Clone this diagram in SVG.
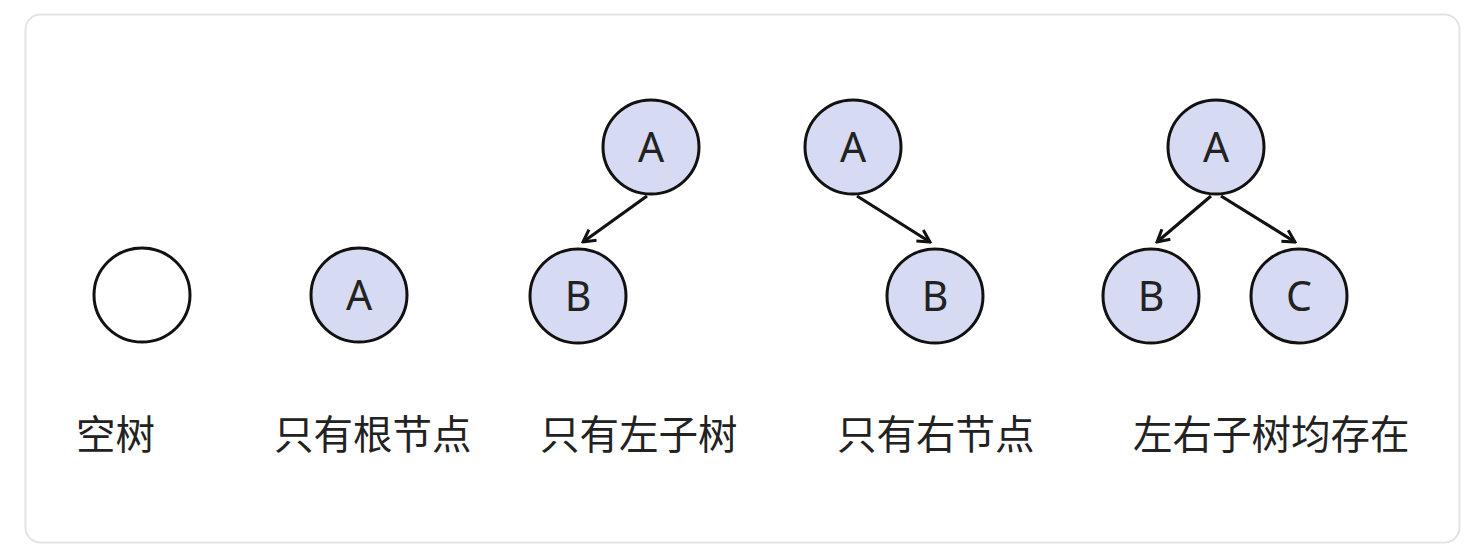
<svg xmlns="http://www.w3.org/2000/svg" width="1475" height="558" viewBox="0 0 1475 558">
<style>
.n{fill:#d6dbf3;stroke:#111;stroke-width:3}
.e{fill:#fff;stroke:#111;stroke-width:3}
.t{font-family:"Noto Sans","Noto Sans CJK SC",sans-serif;font-size:41px;fill:#222;text-anchor:middle}
.l{font-family:"Noto Sans CJK SC",sans-serif;font-size:39.5px;fill:#222}
.c{stroke:#111;stroke-width:3.2;fill:none;marker-end:url(#ah)}
</style>
<defs>
<marker id="ah" viewBox="0 0 16 16" refX="14" refY="8" markerWidth="16" markerHeight="16" markerUnits="userSpaceOnUse" orient="auto">
<path d="M2,1.500 L14,8 L2,14.500" fill="none" stroke="#111" stroke-width="3"/>
</marker>
</defs>
<rect x="25.500" y="14.500" width="1434" height="528" rx="15" fill="#fff" stroke="#e2e2e8" stroke-width="2"/>
<g id="connectors">
<line class="c" x1="647" y1="196" x2="583" y2="242"/>
<line class="c" x1="857" y1="196" x2="930" y2="242"/>
<line class="c" x1="1211" y1="196" x2="1157" y2="242"/>
<line class="c" x1="1221" y1="196" x2="1295" y2="242"/>
</g>
<g id="empty"><ellipse class="e" cx="142" cy="295" rx="48" ry="47"/></g>
<g id="root-A"><ellipse class="n" cx="359" cy="295" rx="48" ry="47"/><text class="t" x="359" y="310">A</text></g>
<g id="left-A"><ellipse class="n" cx="651" cy="147" rx="48" ry="47"/><text class="t" x="651" y="162">A</text></g>
<g id="left-B"><ellipse class="n" cx="578" cy="296" rx="48" ry="47"/><text class="t" x="578" y="311">B</text></g>
<g id="right-A"><ellipse class="n" cx="853" cy="147" rx="48" ry="47"/><text class="t" x="853" y="162">A</text></g>
<g id="right-B"><ellipse class="n" cx="935" cy="296" rx="48" ry="47"/><text class="t" x="935" y="311">B</text></g>
<g id="both-A"><ellipse class="n" cx="1216" cy="147" rx="48" ry="47"/><text class="t" x="1216" y="162">A</text></g>
<g id="both-B"><ellipse class="n" cx="1151" cy="296" rx="48" ry="47"/><text class="t" x="1151" y="311">B</text></g>
<g id="both-C"><ellipse class="n" cx="1299" cy="296" rx="48" ry="47"/><text class="t" x="1299" y="311">C</text></g>
<g id="labels">
<text class="l" x="76" y="449">空树</text>
<text class="l" x="274" y="449">只有根节点</text>
<text class="l" x="540" y="449">只有左子树</text>
<text class="l" x="837" y="449">只有右节点</text>
<text class="l" x="1133" y="449">左右子树均存在</text>
</g>
</svg>
